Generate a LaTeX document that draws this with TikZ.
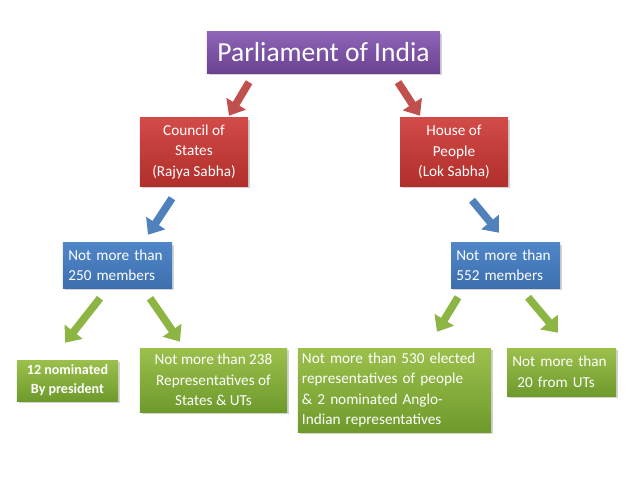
\documentclass[tikz,border=0pt]{standalone}
\usepackage{fontspec}
\setmainfont{Carlito}
\usetikzlibrary{calc,arrows.meta,shadows}

\definecolor{purpletop}{HTML}{8E64B8}
\definecolor{purplebot}{HTML}{6B4290}
\definecolor{redtop}{HTML}{D24B48}
\definecolor{redbot}{HTML}{B02E2B}
\definecolor{bluetop}{HTML}{4F86C8}
\definecolor{bluebot}{HTML}{3D6FAE}
\definecolor{greentop}{HTML}{9CC04C}
\definecolor{greenbot}{HTML}{6E9A2C}
\definecolor{arrred}{HTML}{C0504D}
\definecolor{arrblue}{HTML}{4F81BD}
\definecolor{arrgreen}{HTML}{8DB544}

\tikzset{
  box/.style={rectangle,text=white,inner sep=0pt,
    drop shadow={opacity=0.35,shadow xshift=1.5pt,shadow yshift=-1.5pt}},
  purplebox/.style={box,top color=purpletop,bottom color=purplebot},
  redbox/.style={box,top color=redtop,bottom color=redbot,align=center,
    font=\fontsize{13}{17.5}\selectfont},
  bluebox/.style={box,top color=bluetop,bottom color=bluebot,align=left,
    font=\fontsize{13}{17.5}\selectfont},
  greenbox/.style={box,top color=greentop,bottom color=greenbot,
    font=\fontsize{13}{17.5}\selectfont},
  blockarr/.style={line width=6.5pt,-{Triangle[width=0.66cm,length=0.42cm]}},
}

\begin{document}
\begin{tikzpicture}[x=0.03cm,y=-0.03cm]
    \useasboundingbox (0,0) rectangle (638,479);
    % boxes
    \node[purplebox,minimum width=6.99cm,minimum height=1.23cm,font=\fontsize{23.5}{27}\selectfont](parl)at(323.5,52.5){Parliament of India};
    \node[redbox,minimum width=3.24cm,minimum height=2.04cm](council)at(194,152){Council of\\States\\(Rajya Sabha)};
    \node[redbox,minimum width=3.24cm,minimum height=2.04cm](house)at(454,152){House of\\People\\(Lok Sabha)};
    \node[bluebox,minimum width=3.27cm,minimum height=1.35cm,text width=2.95cm](rsmem)at(117.5,265.5){Not more than\\250 members};
    \node[bluebox,minimum width=3.27cm,minimum height=1.35cm,text width=2.95cm](lsmem)at(505.5,265.5){Not more than\\552 members};
    \node[greenbox,minimum width=3.03cm,minimum height=1.23cm,align=center,font=\fontsize{12}{16}\selectfont\bfseries](nominated)at(67.5,380.5){12 nominated\\By president};
    \node[greenbox,minimum width=4.41cm,minimum height=1.92cm,align=center](states)at(213.5,380){Not more than 238\\Representatives of\\States \& UTs};
    \node[greenbox,minimum width=5.79cm,minimum height=2.52cm,align=left,text width=5.55cm](elected)at(394.5,390){Not more than 530 elected\\representatives of people\\\& 2 nominated Anglo-\\Indian representatives};
    \node[greenbox,minimum width=3.27cm,minimum height=1.44cm,align=left,text width=2.95cm](uts)at(561.5,372){Not more than\\\ 20 from UTs};
    % arrows
    \draw[blockarr,arrred] ($(parl.south)+(-74.5,9)$) -- ($(council.north)+(35,-2)$);
    \draw[blockarr,arrred] ($(parl.south)+(74.5,9)$) -- ($(house.north)+(-34,-2)$);
    \draw[blockarr,arrblue] ($(council.south)+(-22,12)$) -- ($(rsmem.north)+(30.5,-8)$);
    \draw[blockarr,arrblue] ($(house.south)+(18,14)$) -- ($(lsmem.north)+(-6.5,-10)$);
    \draw[blockarr,arrgreen] ($(rsmem.south)+(-17.5,10)$) -- ($(nominated.north)+(-2.5,-17)$);
    \draw[blockarr,arrgreen] ($(rsmem.south)+(32.5,10)$) -- ($(states.north)+(-33.5,-6)$);
    \draw[blockarr,arrgreen] ($(lsmem.south)+(-47.5,9)$) -- ($(elected.north)+(42.5,-16)$);
    \draw[blockarr,arrgreen] ($(lsmem.south)+(22.5,9)$) -- ($(uts.north)+(-3.5,-15)$);
\end{tikzpicture}
\end{document}
